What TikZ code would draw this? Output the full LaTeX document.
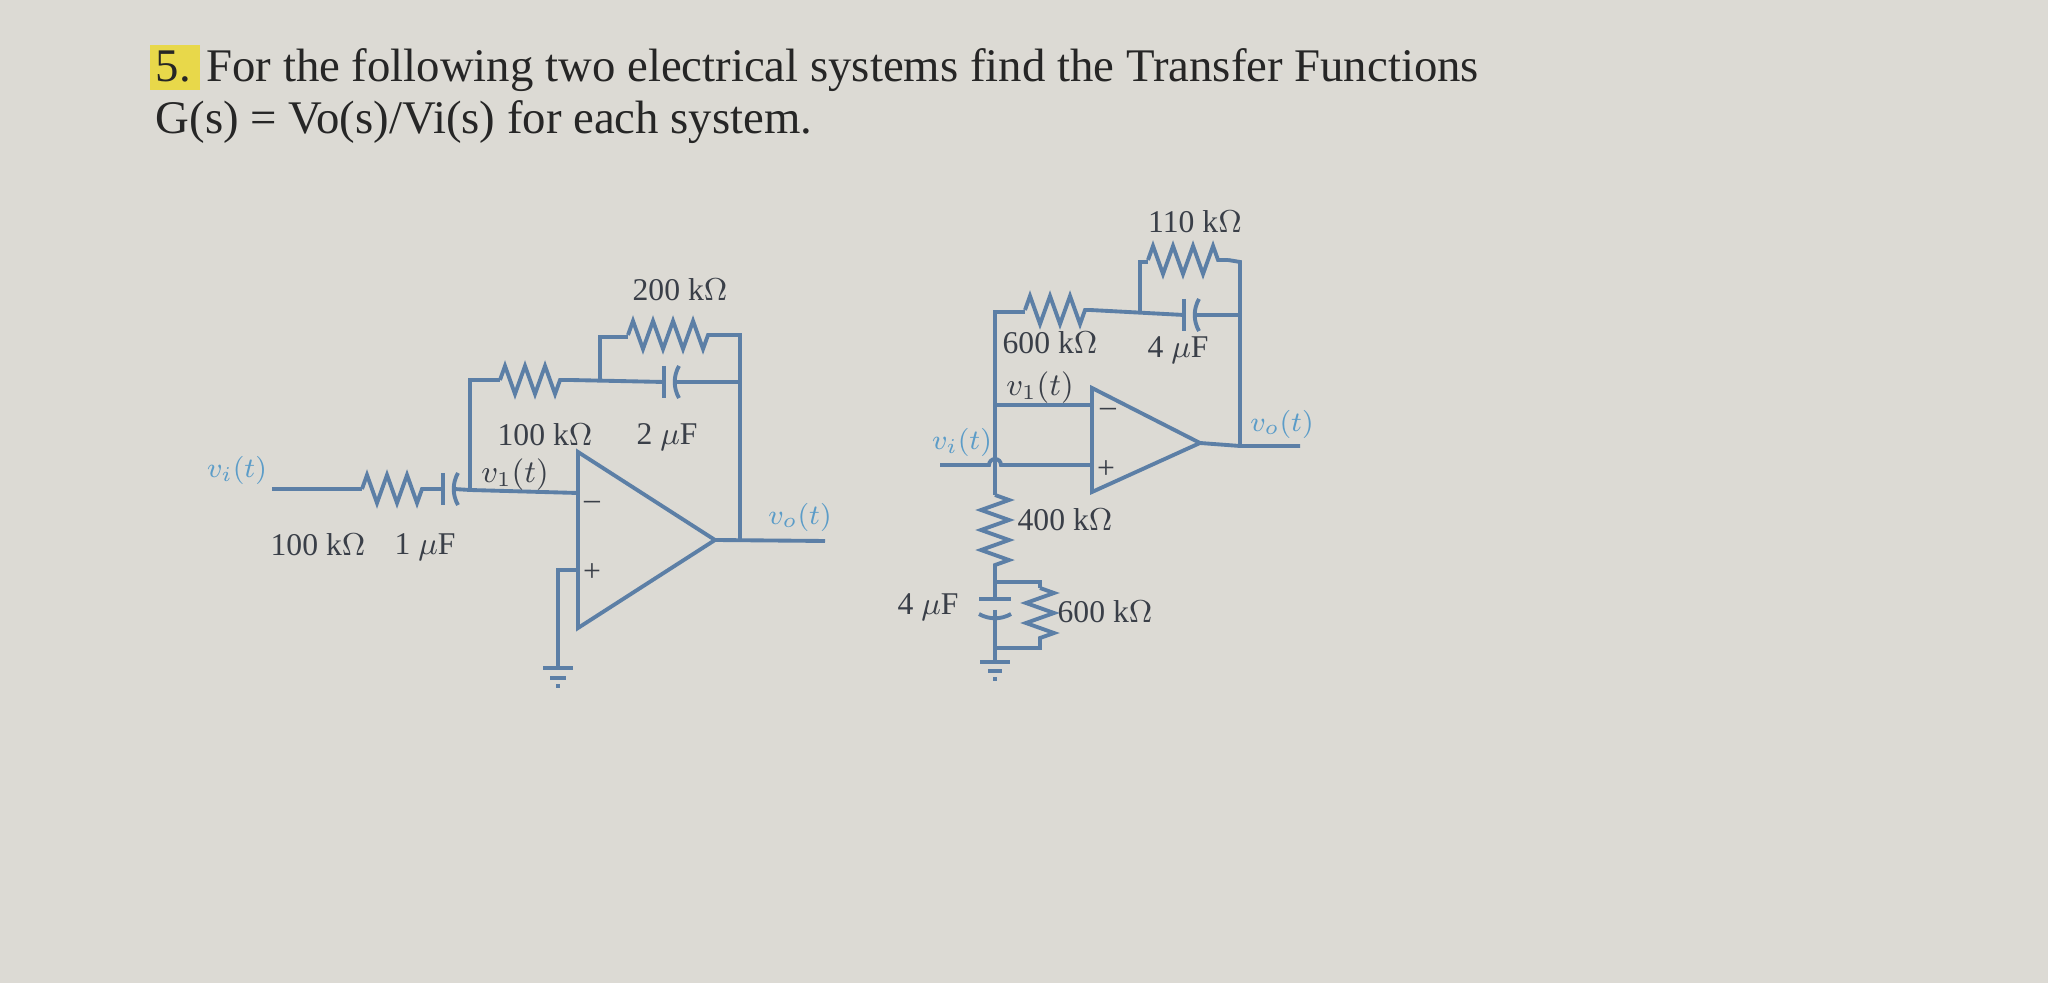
\documentclass[tikz,border=0pt]{standalone}
\usepackage{fontspec}
\setmainfont{Liberation Serif}
\usetikzlibrary{decorations.pathmorphing,calc}
\definecolor{wire}{HTML}{5C7FA6}
\definecolor{lbl}{HTML}{3A3F48}
\definecolor{blu}{HTML}{5B9CC8}
\definecolor{bg}{HTML}{DCDAD4}
\definecolor{hl}{HTML}{E8D84A}
\tikzset{
  w/.style={draw=wire,line width=1.1pt},
  res/.style={w,decorate,decoration={zigzag,amplitude=0.14cm,segment length=0.2cm}},
  lab/.style={text=lbl,font=\fontsize{9}{10}\selectfont,inner sep=0pt},
  sig/.style={text=blu,font=\fontsize{8}{9}\selectfont\itshape,inner sep=0pt},
  amp/.style={w,line join=miter}
}
\newcommand{\capH}[1]{% horizontal capacitor centred at #1
  \draw[w] ($#1+(-5,-16)$) -- ($#1+(-5,16)$);
  \draw[w] ($#1+(10,-16)$) arc[start angle=150,end angle=210,radius=0.32cm];}
\newcommand{\capV}[1]{% vertical capacitor centred at #1
  \draw[w] ($#1+(-16,-5)$) -- ($#1+(16,-5)$);
  \draw[w] ($#1+(-16,10)$) arc[start angle=240,end angle=300,radius=0.32cm];}
\begin{document}
\begin{tikzpicture}[x=0.01cm,y=-0.01cm]
\fill[bg] (0,0) rectangle (2048,983);
\useasboundingbox (0,0) rectangle (2048,983);
% title
\fill[hl] (150,45) rectangle (200,90);
\node[anchor=base west,inner sep=0pt,text=black!85,font=\fontsize{13.3}{15}\selectfont] (t1) at (155,82) {5. For the following two electrical systems find the Transfer Functions};
\node[anchor=base west,inner sep=0pt,text=black!85,font=\fontsize{13.3}{15}\selectfont] (t2) at (155,134) {G(s) = Vo(s)/Vi(s) for each system.};
% ===== left circuit =====
\coordinate (Lin) at (272,489);
\coordinate (Lr1a) at (362,489); \coordinate (Lr1b) at (432,489);
\coordinate (Lc1) at (448,489);
\coordinate (Ln) at (470,490);
\coordinate (Lm) at (578,493);
\coordinate (Lp) at (578,570);
\draw[amp] (578,452) -- (578,628) -- (715,540) -- cycle;
\coordinate (Lo) at (715,540);
\coordinate (Lout) at (825,541);
\draw[w] (Lin) -- (Lr1a);
\draw[res] (Lr1a) -- (Lr1b);
\draw[w] (Lr1b) -- ($(Lc1)+(-5,0)$); \capH{(Lc1)}
\draw[w] ($(Lc1)+(6,0)$) -- (Ln) -- (Lm);
\draw[w] (Ln) -- (470,380) -- (500,380);
\draw[res] (500,380) -- (570,380);
\draw[w] (570,380) -- ($(669,382)+(-5,0)$); \capH{(669,382)}
\draw[w] ($(669,382)+(6,0)$) -- (740,382);
\draw[w] (600,381) -- (600,337) -- (628,337);
\draw[res] (628,335) -- (718,335);
\draw[w] (718,335) -- (740,335) -- (740,541);
\draw[w] (Lo) -- (Lout);
\draw[w] (Lp) -- (558,570) -- (558,668);
\draw[w] (543,668) -- (573,668); \draw[w] (550,678) -- (566,678); \draw[w] (556,686) -- (560,686);
\node[lab] at (592,505) {--}; \node[lab] at (592,573) {+};
\node[lab] (l200) at (680,290) {200 k$\Omega$};
\node[lab] (l100a) at (545,435) {100 k$\Omega$};
\node[lab] (l2u) at (667,437) {2 $\mu$F};
\node[lab] (lv1) at (515,475) {$v_1(t)$};
\node[sig] (lvi) at (237,470) {$v_i(t)$};
\node[lab] (l100b) at (318,545) {100 k$\Omega$};
\node[lab] (l1u) at (425,547) {1 $\mu$F};
\node[sig] (lvo) at (800,517) {$v_o(t)$};
% ===== right circuit =====
\draw[amp] (1092,388) -- (1092,492) -- (1200,443) -- cycle;
\draw[w] (995,405) -- (1092,405);
\draw[w] (940,465) -- (989,465) arc[start angle=180,end angle=0,radius=0.06cm] -- (1092,465);
\draw[w] (995,480) -- (995,312) -- (1025,312);
\draw[res] (1025,310) -- (1090,310);
\draw[w] (1090,310) -- ($(1189,315)+(-5,0)$);
\capH{(1189,315)}
\draw[w] ($(1189,315)+(6,0)$) -- (1240,315);
\draw[w] (1140,313) -- (1140,262) -- (1148,262);
\draw[res] (1148,260) -- (1228,260);
\draw[w] (1228,260) -- (1240,262) -- (1240,446);
\draw[w] (1200,443) -- (1240,446) -- (1300,446);
\draw[w] (995,480) -- (995,495);
\draw[res] (995,495) -- (995,575);
\draw[w] (995,575) -- (995,600); \capV{(995,604)}
\draw[w] (995,610) -- (995,662);
\draw[w] (995,582) -- (1040,582) -- (1040,588);
\draw[res] (1040,588) -- (1040,642);
\draw[w] (1040,642) -- (1040,648) -- (995,648);
\draw[w] (980,662) -- (1010,662); \draw[w] (988,671) -- (1002,671); \draw[w] (993,679) -- (997,679);
\node[lab] at (1108,412) {--}; \node[lab] at (1106,470) {+};
\node[lab] (r110) at (1195,222) {110 k$\Omega$};
\node[lab] (r600a) at (1050,343) {600 k$\Omega$};
\node[lab] (r4ua) at (1178,350) {4 $\mu$F};
\node[lab] (rv1) at (1040,388) {$v_1(t)$};
\node[sig] (rvi) at (962,442) {$v_i(t)$};
\node[sig] (rvo) at (1282,424) {$v_o(t)$};
\node[lab] (r400) at (1065,520) {400 k$\Omega$};
\node[lab] (r4ub) at (928,607) {4 $\mu$F};
\node[lab] (r600b) at (1105,612) {600 k$\Omega$};
\end{tikzpicture}
\end{document}
